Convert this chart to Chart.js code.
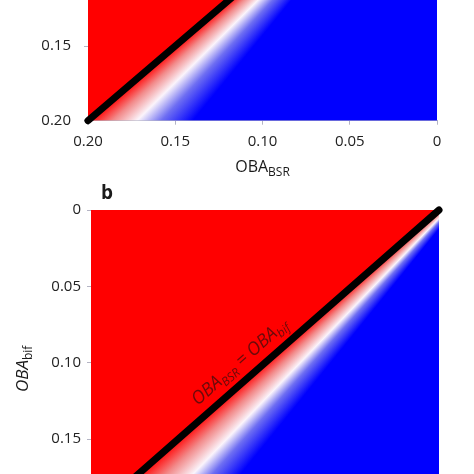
<!DOCTYPE html>
<html><head><meta charset="utf-8">
<script src="https://cdn.jsdelivr.net/npm/chart.js@4.4.1/dist/chart.umd.min.js"></script>
<style>
html,body{margin:0;padding:0;width:474px;height:474px;overflow:hidden;background:#fff;}
#ca{position:absolute;left:0;top:-200px;}
#cb{position:absolute;left:0;top:180px;}
</style></head><body>
<canvas id="ca" width="474" height="385"></canvas>
<canvas id="cb" width="474" height="420"></canvas>
<script>
// ---- data ----
const xTickValues = [0, 0.05, 0.10, 0.15, 0.20];
const xTickLabels = ['0', '0.05', '0.10', '0.15', '0.20'];
const yTickValues = [0, 0.05, 0.10, 0.15, 0.20];
const yTickLabels = ['0', '0.05', '0.10', '0.15', '0.20'];
const axisMin = 0, axisMax = 0.20;
// identity line OBA_BSR = OBA_bif
const diagX = [0, 0.20];
const diagY = [0, 0.20];
// colour field: contour boundaries as ratios OBA_BSR/OBA_bif, measured from a fan centre
const bandColors = ['#0000ff', '#6e6ef2', '#fbf4fb', '#f28a8a', '#ff1a1a'];
const bandSlopesA = [0.70, 0.79, 0.86, 0.93, 0.985];
const bandSlopesB = [0.71, 0.79, 0.845, 0.92, 0.985];
const fanCentreA = [0, 0];
const fanCentreB = [-0.03, -0.03];
const labelAtA = 0.10, labelAtB = 0.108;

const FONT = '"Open Sans", "DejaVu Sans", sans-serif';

function fieldGradient(chart, centre, slopes) {
  if (!chart.chartArea || !chart.scales.x) return bandColors[0];
  const xs = chart.scales.x, ys = chart.scales.y;
  const cx = xs.getPixelForValue(centre[0]), cy = ys.getPixelForValue(centre[1]);
  const sx = Math.abs(xs.getPixelForValue(1) - xs.getPixelForValue(0));
  const sy = Math.abs(ys.getPixelForValue(1) - ys.getPixelForValue(0));
  const start = Math.PI / 2 - 0.3;
  const g = chart.ctx.createConicGradient(start, cx, cy);
  slopes.forEach((k, i) => {
    const th = Math.atan2(sy, -k * sx);
    g.addColorStop((th - start) / (2 * Math.PI), bandColors[i]);
  });
  g.addColorStop(Math.min(1, (Math.atan2(sy, -1.0 * sx) - start) / (2 * Math.PI)), '#ff0000');
  return g;
}

function drawParts(ctx, parts, cx, baseY) {
  let total = 0;
  parts.forEach(p => { ctx.font = p.font; p.w = ctx.measureText(p.t).width; total += p.w; });
  let x = cx - total / 2;
  ctx.textAlign = 'left';
  ctx.textBaseline = 'alphabetic';
  parts.forEach(p => { ctx.font = p.font; ctx.fillText(p.t, x, baseY + (p.dy || 0)); x += p.w; });
}

function makeTextPlugin(opts) {
  return {
    id: 'texts' + opts.name,
    afterDatasetsDraw(chart) {
      const ctx = chart.ctx, a = chart.chartArea;
      const xs = chart.scales.x, ys = chart.scales.y;
      ctx.save();
      // diagonal label
      const px = xs.getPixelForValue(opts.labelAt), py = ys.getPixelForValue(opts.labelAt);
      const x0 = xs.getPixelForValue(diagX[0]), y0 = ys.getPixelForValue(diagY[0]);
      const x1 = xs.getPixelForValue(diagX[1]), y1 = ys.getPixelForValue(diagY[1]);
      const ang = Math.atan2(y0 - y1, x0 - x1);
      ctx.translate(px, py);
      ctx.rotate(ang);
      ctx.fillStyle = '#6b0a0a';
      drawParts(ctx, [
        {t: 'OBA', font: 'italic 18px ' + FONT},
        {t: 'BSR', font: 'italic 12px ' + FONT, dy: 4},
        {t: ' = OBA', font: 'italic 18px ' + FONT},
        {t: 'bif', font: 'italic 12px ' + FONT, dy: 4}
      ], 0, -12);
      ctx.restore();
      ctx.save();
      ctx.fillStyle = '#1a1a1a';
      // y title
      ctx.translate(22, (a.top + a.bottom) / 2 + 6);
      ctx.rotate(-Math.PI / 2);
      drawParts(ctx, [
        {t: 'OBA', font: 'italic 17px ' + FONT},
        {t: 'bif', font: '12px ' + FONT, dy: 4}
      ], 0, 6);
      ctx.restore();
      ctx.save();
      ctx.fillStyle = '#1a1a1a';
      if (opts.xTitle) {
        drawParts(ctx, [
          {t: 'OBA', font: '16px ' + FONT},
          {t: 'BSR', font: '12px ' + FONT, dy: 4}
        ], (a.left + a.right) / 2, a.bottom + 51);
      }
      if (opts.letter) {
        ctx.font = 'bold 19px ' + FONT;
        ctx.textAlign = 'left';
        ctx.fillText(opts.letter, a.left + 10, a.top - 11);
      }
      ctx.restore();
    }
  };
}

function tickIndex(arr, v) { return arr.findIndex(t => Math.abs(t - v) < 1e-9); }

function makeChart(id, o) {
  const tickFont = {family: FONT, size: 15};
  return new Chart(document.getElementById(id), {
    type: 'scatter',
    data: {
      datasets: [
        {
          data: diagX.map((x, i) => ({x, y: diagY[i]})),
          showLine: true, borderColor: '#000', borderWidth: 7, borderCapStyle: 'round',
          pointRadius: 0, order: 0, clip: false
        },
        {
          data: [{x: axisMin, y: axisMax}, {x: axisMax, y: axisMax}],
          showLine: true, borderWidth: 0, borderColor: 'rgba(0,0,0,0)', pointRadius: 0,
          fill: {value: axisMin}, order: 1,
          backgroundColor: (c) => fieldGradient(c.chart, o.centre, o.slopes)
        }
      ]
    },
    options: {
      responsive: false, animation: false, devicePixelRatio: 1,
      layout: {padding: o.padding},
      plugins: {legend: {display: false}, tooltip: {enabled: false}},
      scales: {
        x: {
          type: 'linear', reverse: true, min: axisMin, max: axisMax,
          afterBuildTicks: s => { s.ticks = xTickValues.map(v => ({value: v})); },
          ticks: {font: tickFont, color: '#222', padding: 8, maxRotation: 0, autoSkip: false,
            callback: (v) => xTickLabels[tickIndex(xTickValues, v)]},
          grid: {drawOnChartArea: false, drawTicks: true, tickLength: 4, color: '#b4b4c4'},
          border: {display: true, color: '#b4b4c4'},
          afterFit: s => { s.height = 42; }
        },
        y: {
          type: 'linear', reverse: true, min: axisMin, max: axisMax,
          afterBuildTicks: s => { s.ticks = yTickValues.map(v => ({value: v})); },
          ticks: {font: tickFont, color: '#222', padding: o.yPad, autoSkip: false,
            callback: (v) => yTickLabels[tickIndex(yTickValues, v)]},
          grid: {drawOnChartArea: false, drawTicks: true, tickLength: 4, color: '#b4b4c4'},
          border: {display: true, color: '#b4b4c4'},
          afterFit: s => { s.width = o.yWidth; }
        }
      }
    },
    plugins: [makeTextPlugin(o)]
  });
}

makeChart('ca', {name: 'A', centre: fanCentreA, slopes: bandSlopesA, labelAt: labelAtA,
  padding: {top: 18, right: 37, left: 0, bottom: 22.3}, yWidth: 88, yPad: 13, xTitle: true});
makeChart('cb', {name: 'B', centre: fanCentreB, slopes: bandSlopesB, labelAt: labelAtB,
  padding: {top: 30, right: 35, left: 0, bottom: 42.4}, yWidth: 91, yPad: 6, letter: 'b'});
</script>
</body></html>
